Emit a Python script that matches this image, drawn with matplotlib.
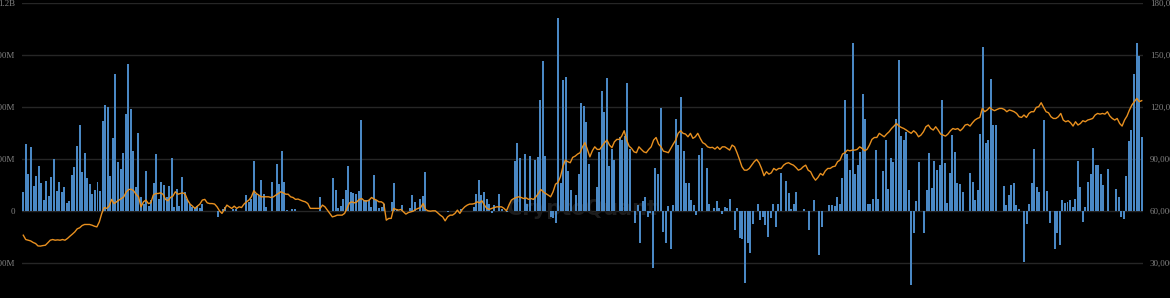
import numpy as np
import matplotlib
matplotlib.use('Agg')
import matplotlib.pyplot as plt
from matplotlib.ticker import FuncFormatter

# daily netflow (millions) left to right
flow_a = [110, 385, 212, 370, 145, 200, 260, 162, 65, 172, 85, 197, 297, 116, 164, 106, 139, 48, 56, 205,
          251, 374, 494, 224, 332, 191, 156, 96, 123, 166, 112, 519, 612, 602, 203, 422, 789, 280, 241, 336,
          561, 849, 586, 345, 137, 451, 81, 42, 231, 29, 62, 162, 326, 67, 168, 152, 81, 143, 307, 23, 129]
flow_b = [27, 193, 110, 71, 38, 23, 19, 27, 17, 38, 0, 0, 0, 0, 0, -35, 0, 13, 23, 0,
          0, 13, 8, 0, 0, 0, 94, 52, 71, 289, 96, 90, 181, 100, 23, 0, 169, 0, 273, 154,
          348, 167, 4, 0, 13, 13, 0, 0, 0, 0, 0, 0, 0, 0, 0, 81, 0, 0, 0, 0, 187, 119, 19]
flow_c = [27, 71, 119, 260, 110, 104, 100, 113, 523, 60, 62, 65, 23, 206, 65, 19, 23, 42, 0, 0,
          52, 158, 8, 0, 33, 0, 0, 19, 90, 52, 0, 71, 85, 223, 0, 0, 0, 0, 0, 0,
          0, 0, -6, 0, 0, 0, 0, 13, 0, 0, 0, 0, 23, 96, 181, 90, 110, 71, 38, -12, 33, 0, 96]
flow_d = [13, 0, -6, 0, 0, 287, 393, 308, 0, 327, 42, 316, 0, 292, 312, 642, 869, 319, 0, -38,
          -44, -69, 1115, 158, 754, 773, 231, 123, 0, 90, 215, 623, 604, 511, 269, 0, 0, 139, 340, 692,
          571, 767, 258, 360, 296, 0, 427, 412, 433, 739, 356, 0, -73, 33, -188, 56, 77, -35, -12, -333,
          250, 210, 596]
flow_e = [-121, -185, 29, -218, 33, 530, 380, 658, 345, 158, 158, 62, 33, -25, 321, 363, 0, 248, 42, 0,
          19, 56, 19, -19, 23, 19, 69, 0, -112, 19, -160, -165, -419, -188, -242, -77, 0, 38, -54, -38,
          -83, -150, -44, 42, -96, 38, 221, 0, 171, 104, 8, 38, 106, 0, 0, 13, 0, -112, 0, 62, 0, -256]
flow_f = [-92, 0, 0, 33, 33, 27, 77, 38, 192, 642, 327, 238, 969, 215, 267, 340, 673, 529, 38, 38,
          67, 354, 67, 0, 231, 408, 129, 308, 285, 529, 873, 431, 412, 456, 123, -429, -131, 58, 283, 0,
          -131, 119, 335, 133, 287, 238, 263, 638, 279, 48, 219, 437, 340, 162, 154, 110, 0, 0, 221, 167,
          65, 123, 446]
flow_g = [950, 393, 412, 764, 494, 494, 0, 0, 142, 33, 90, 148, 158, 33, 13, 0, -295, -77, 42, 158,
          360, 139, 110, 0, 523, 113, -69, 0, -218, -131, -198, 62, 46, 52, 62, 23, 71, 289, 135, -63,
          23, 167, 212, 363, 263, 263, 210, 148, 0, 244, 0, 0, 129, 81, -38, -48, 200, 404, 465, 789,
          969, 898, 427]

# price (thousands USD)
price_a = [45.9, 43.4, 43.0, 42.6, 41.7, 41.1, 39.7, 39.6, 39.9, 40.1, 41.5, 43.0, 43.4, 43.0, 43.2, 43.0,
           43.4, 43.0, 44.0, 45.3, 46.5, 47.8, 49.6, 50.2, 51.5, 52.1, 52.1, 52.1, 51.7, 51.1, 50.7, 53.6,
           58.5, 61.9, 61.4, 62.7, 66.6, 64.2, 65.2, 66.2, 67.1, 68.1, 71.0, 72.3, 72.5, 71.6, 69.5, 68.1,
           62.3, 65.2, 66.2, 64.2, 64.6, 69.1, 70.0, 70.0, 70.4, 69.5, 66.6, 65.8, 67.7, 68.5, 71.0, 69.6, 70.0]
price_b = [70.4, 69.6, 66.2, 63.9, 62.7, 61.4, 62.7, 63.9, 66.2, 66.6, 64.6, 64.2, 64.2, 63.9, 62.3, 60.0,
           58.5, 60.8, 63.3, 62.3, 61.4, 62.7, 61.4, 62.3, 61.9, 63.9, 65.2, 66.2, 68.1, 71.6, 70.0, 69.1,
           68.1, 68.1, 68.1, 68.1, 67.7, 68.1, 69.1, 70.0, 71.0, 70.4, 69.6, 69.6, 68.1, 67.7, 66.6, 66.8,
           66.2, 65.6, 65.2, 64.2, 61.4, 61.4, 61.4, 61.4, 61.4, 63.3, 62.3, 60.4, 58.5, 56.5, 56.9, 57.5, 57.5]
price_c = [57.5, 58.5, 61.4, 64.6, 65.2, 64.6, 65.2, 66.6, 67.1, 65.8, 65.6, 66.2, 67.7, 66.8, 66.2, 65.2,
           65.2, 64.2, 54.6, 55.6, 55.6, 61.4, 60.8, 60.4, 60.8, 59.4, 58.1, 59.0, 59.4, 59.8, 60.8, 61.4,
           61.9, 64.2, 60.8, 60.0, 59.8, 60.0, 60.0, 58.8, 57.5, 56.5, 54.2, 56.5, 57.5, 57.5, 58.5, 60.4,
           58.5, 60.8, 62.3, 63.3, 63.9, 63.9, 64.2, 65.2, 64.6, 65.8, 63.3, 61.4, 60.8, 61.4, 61.9, 62.3, 62.3]
price_d = [62.3, 61.4, 60.0, 63.3, 66.2, 67.1, 67.7, 68.1, 67.7, 67.1, 67.5, 66.6, 67.1, 66.6, 68.1, 70.0,
           72.3, 71.0, 70.0, 69.1, 68.1, 71.0, 75.4, 76.4, 79.7, 85.5, 89.3, 88.4, 87.8, 90.9, 91.6, 92.8,
           93.6, 97.0, 99.4, 95.5, 91.2, 94.7, 97.0, 95.5, 95.5, 97.4, 99.4, 100.9, 98.0, 96.5, 99.9, 101.3,
           101.3, 103.2, 106.3, 100.9, 97.4, 96.1, 94.1, 93.6, 97.0, 95.5, 94.1, 93.6, 95.5, 97.0, 100.9, 102.4, 98.6]
price_e = [97.0, 94.5, 94.1, 93.6, 96.1, 98.6, 100.9, 104.8, 106.3, 104.8, 104.4, 102.8, 104.8, 101.9, 102.8,
           104.8, 101.9, 99.4, 98.6, 97.0, 96.5, 96.7, 95.7, 97.0, 95.5, 97.0, 97.0, 96.1, 95.1, 98.0, 97.0,
           93.6, 89.7, 85.5, 83.5, 83.5, 84.5, 86.4, 88.4, 89.7, 87.8, 84.5, 80.3, 82.6, 81.2, 82.0, 84.5,
           83.5, 84.5, 84.5, 86.4, 87.4, 87.8, 87.0, 86.4, 85.1, 83.5, 84.1, 85.5, 86.4, 83.5, 82.6, 79.7, 77.7, 79.3]
price_f = [81.6, 80.6, 83.1, 84.5, 84.5, 85.5, 85.8, 88.4, 89.3, 92.8, 93.6, 95.1, 94.7, 95.1, 95.1, 95.5,
           97.0, 96.1, 94.7, 95.5, 98.0, 101.3, 102.4, 102.4, 104.8, 103.8, 102.8, 104.4, 105.7, 107.6, 109.0,
           110.5, 109.0, 108.2, 107.6, 106.7, 105.7, 104.8, 106.3, 105.1, 102.8, 103.8, 105.7, 108.6, 109.6,
           107.6, 106.7, 108.6, 106.7, 104.4, 103.8, 103.2, 104.4, 106.3, 107.6, 107.1, 107.6, 106.3, 107.6,
           109.6, 110.0, 109.0, 110.9, 112.5, 113.4]
price_g = [114.0, 119.2, 117.3, 118.3, 119.8, 118.6, 117.9, 118.6, 119.2, 119.2, 118.6, 117.3, 118.3, 117.9,
           117.3, 116.3, 114.4, 114.0, 115.4, 114.0, 116.3, 117.3, 117.3, 119.8, 120.2, 122.5, 119.8, 117.3,
           116.7, 114.4, 113.4, 113.4, 114.4, 116.3, 112.5, 111.5, 112.1, 110.9, 109.0, 111.5, 109.6, 110.5,
           112.1, 111.5, 112.5, 112.9, 113.4, 115.4, 116.3, 115.9, 116.3, 115.9, 117.3, 114.8, 113.4, 112.5,
           113.4, 110.5, 109.0, 112.5, 114.8, 118.3, 121.2, 123.1, 125.0, 123.1, 123.7]

flow = np.array(flow_a + flow_b + flow_c + flow_d + flow_e + flow_f + flow_g) * 1e6
price = np.array(price_a + price_b + price_c + price_d + price_e + price_f + price_g) * 1e3

left_ticks = [-300e6, 0, 300e6, 600e6, 900e6, 1.2e9]
right_ticks = [30000, 60000, 90000, 120000, 150000, 180000]

bar_color = '#4a88c4'
line_color = '#e8901f'
label_color = '#808080'

n = len(flow)
xb = np.arange(n)
xp = np.linspace(0, n - 1, len(price))

fig = plt.figure(figsize=(11.7, 2.98), dpi=100, facecolor='black')
ax = fig.add_axes([22 / 1170, 0.0024, (1143 - 22) / 1170, 0.9866])
ax.set_facecolor('black')
ax.bar(xb, flow, width=0.78, color=bar_color, zorder=2)
ax.set_xlim(-0.5, n - 0.5)
ax.set_ylim(-500e6, 1.2e9)
ax.set_yticks(left_ticks)


def fmt_left(v, pos):
    if v == 0:
        return '0'
    if abs(v) >= 1e9:
        return f'{v / 1e9:g}B'
    return f'{v / 1e6:g}M'


ax.yaxis.set_major_formatter(FuncFormatter(fmt_left))
ax.set_xticks([])
ax.grid(axis='y', color='#262626', linewidth=1.0, zorder=0)
ax.set_axisbelow(True)
ax.tick_params(axis='y', length=0, pad=5, labelsize=6.5, labelcolor=label_color)
for lab in ax.get_yticklabels():
    lab.set_family('Liberation Serif')
for s in ax.spines.values():
    s.set_visible(False)

ax.text(0.5, 0.3, 'CryptoQuant', transform=ax.transAxes, ha='center', va='center',
        fontsize=15, color='#1c1c1c', fontweight='bold', zorder=1)

ax2 = ax.twinx()
ax2.plot(xp, price, color=line_color, linewidth=1.0, zorder=3)
ax2.set_ylim(10000, 180000)
ax2.set_yticks(right_ticks)
ax2.yaxis.set_major_formatter(FuncFormatter(lambda v, p: f'{int(v):,}'))
ax2.tick_params(axis='y', length=0, pad=5, labelsize=6.5, labelcolor=label_color)
for lab in ax2.get_yticklabels():
    lab.set_family('Liberation Serif')
for s in ax2.spines.values():
    s.set_visible(False)

fig.savefig('out.png', dpi=100, facecolor='black')
